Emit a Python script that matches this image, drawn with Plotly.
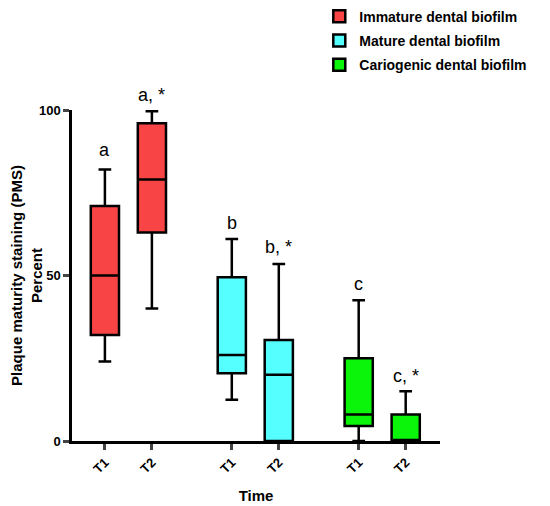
import plotly.graph_objects as go

# Box summary values (percent)
groups = ['Immature dental biofilm', 'Mature dental biofilm', 'Cariogenic dental biofilm']
colors = ['#F84444', '#55FFFF', '#0AF50A']
tick_labels = ['T1', 'T2', 'T1', 'T2', 'T1', 'T2']
positions = [0, 1, 2.7, 3.7, 5.4, 6.4]

lower = [24, 40, 12.5, 0, 0, 0]
q1 = [32, 63, 20.5, 0, 4.5, 0]
median = [50, 79, 26, 20, 8, 0]
q3 = [71, 96, 49.5, 30.5, 25, 8]
upper = [82, 99.6, 61, 53.5, 42.5, 15]

letters = ['a', 'a, *', 'b', 'b, *', 'c', 'c, *']
letter_y = [88, 104.5, 66, 58.5, 47.5, 19.5]

FONT = 'Liberation Sans'

fig = go.Figure()

for g, name in enumerate(groups):
    idx = [2 * g, 2 * g + 1]
    fig.add_trace(go.Box(
        x=[positions[i] for i in idx],
        lowerfence=[lower[i] for i in idx],
        q1=[q1[i] for i in idx],
        median=[median[i] for i in idx],
        q3=[q3[i] for i in idx],
        upperfence=[upper[i] for i in idx],
        name=name,
        legendgroup=name,
        width=0.6,
        whiskerwidth=0.45,
        fillcolor=colors[g],
        line=dict(color='black', width=2.5),
        boxpoints=False,
    ))

# significance letters; placed in paper coords so the one above 100 is not hidden
for x, txt, y in zip(positions, letters, letter_y):
    fig.add_annotation(x=x, xref='x', y=y / 100, yref='paper', text=txt,
                       showarrow=False,
                       font=dict(family=FONT, size=18, color='black'),
                       yanchor='middle')

# page body has an 8px margin, so the figure is a bit smaller than the window
fig.update_layout(
    width=542, height=498,
    margin=dict(l=64, r=110, t=102, b=65, autoexpand=False),
    plot_bgcolor='white', paper_bgcolor='white',
    font=dict(family=FONT, color='black'),
    showlegend=True,
    legend=dict(
        x=0.672, y=1.33, xanchor='left', yanchor='top',
        font=dict(family=FONT, size=14, color='black', weight='bold'),
        traceorder='grouped', tracegroupgap=3,
        bgcolor='rgba(0,0,0,0)',
    ),
)

fig.update_xaxes(
    range=[-0.7, 7.13],
    tickmode='array', tickvals=positions, ticktext=tick_labels,
    tickangle=-45,
    tickfont=dict(family=FONT, size=13, weight='bold'),
    ticks='outside', ticklen=6, tickwidth=2.5,
    showline=True, linecolor='black', linewidth=2.5,
    showgrid=False, zeroline=False,
    title=dict(text='Time', font=dict(family=FONT, size=15, weight='bold'), standoff=16),
)

fig.update_yaxes(
    range=[0, 100],
    tickvals=[0, 50, 100],
    tickfont=dict(family=FONT, size=13, weight='bold'),
    ticks='outside', ticklen=6, tickwidth=2.5,
    showline=True, linecolor='black', linewidth=2.5,
    showgrid=False, zeroline=False,
    title=dict(text='Plaque maturity staining (PMS)<br>Percent',
               font=dict(family=FONT, size=15, weight='bold'), standoff=4),
)

fig.write_html("out.html")
